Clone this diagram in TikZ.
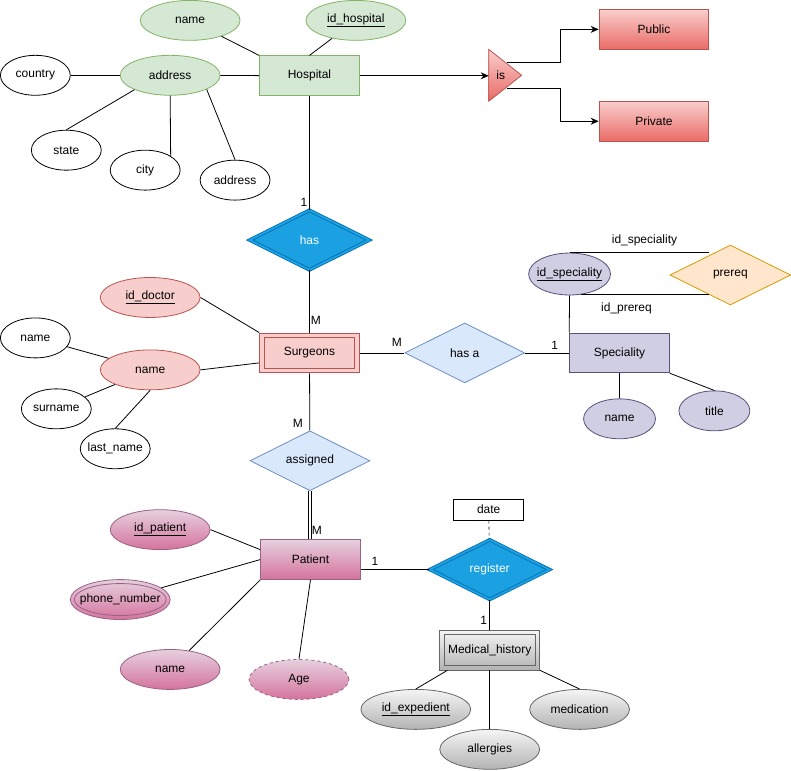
\documentclass[tikz,border=0pt]{standalone}
\usepackage{fontspec}
\setmainfont{Liberation Sans}
\usepackage{tikz}
\usetikzlibrary{arrows.meta,shapes.geometric,calc}

\definecolor{grfill}{HTML}{D5E8D4}\definecolor{grline}{HTML}{82B366}
\definecolor{rdfill}{HTML}{F8CECC}\definecolor{rdline}{HTML}{B85450}\definecolor{rddark}{HTML}{EA6B66}
\definecolor{bufill}{HTML}{1BA1E2}\definecolor{buline}{HTML}{006EAF}
\definecolor{lbfill}{HTML}{DAE8FC}\definecolor{lbline}{HTML}{6C8EBF}
\definecolor{pufill}{HTML}{D0CEE2}\definecolor{puline}{HTML}{56517E}
\definecolor{orfill}{HTML}{FFE6CC}\definecolor{orline}{HTML}{D79B00}
\definecolor{mvtop}{HTML}{E6D0DE}\definecolor{mvbot}{HTML}{D5739D}\definecolor{mvline}{HTML}{996185}
\definecolor{gytop}{HTML}{F5F5F5}\definecolor{gybot}{HTML}{B3B3B3}\definecolor{gyline}{HTML}{666666}

\begin{document}
\begin{tikzpicture}[x=1pt, y=-1pt, line width=0.8pt,
    font=\fontsize{12}{14}\selectfont,
    entity/.style={rectangle, draw, minimum width=100pt, minimum height=40pt, inner sep=0pt},
    attrib/.style={ellipse, draw, minimum width=#1, minimum height=40pt, inner sep=0pt},
    attrib/.default=70pt,
    relation/.style={diamond, draw, minimum width=120pt, minimum height=60pt, inner sep=0pt},
    greenfill/.style={fill=grfill, draw=grline},
    rosefill/.style={fill=rdfill, draw=rdline},
    redshade/.style={top color=rdfill, bottom color=rddark, draw=rdline},
    bluedbl/.style={fill=bufill, draw=buline, double=bufill, double distance=2pt, text=white},
    bluelight/.style={fill=lbfill, draw=lbline},
    lilac/.style={fill=pufill, draw=puline},
    amber/.style={fill=orfill, draw=orline},
    mauve/.style={top color=mvtop, bottom color=mvbot, draw=mvline},
    greyshade/.style={top color=gytop, bottom color=gybot, draw=gyline},
    arr/.style={-{Stealth[length=8pt, width=7pt]}}]
    %%Background
    \draw[draw=none] (0,0) rectangle (791,771);
    %%Hospital
    \node[entity, greenfill] (hosp) at (309.5,75.5) {Hospital};
    \node[attrib=100pt, greenfill] (hname) at (190,20) {name};
    \node[attrib=100pt, greenfill] (hid) at (356,20) {\underline{id\_hospital}};
    \node[attrib=100pt, greenfill] (addr) at (170,75) {address};
    \node[attrib] (country) at (35,75) {country};
    \node[attrib] (state) at (66,150) {state};
    \node[attrib] (city) at (145,170) {city};
    \node[attrib] (addr2) at (235,180) {address};

    \draw (hname) -- (hosp.north west);
    \draw (hid) -- (hosp.north);
    \draw (addr) -- (hosp);
    \draw (country) -- (addr);
    \draw (state.north) -- (addr.202);
    \draw (city.29) -- (addr.south);
    \draw (addr2.north) -- (addr.-21);

    %%is
    \draw[redshade] (489,49) -- (522,75) -- (489,101) -- cycle;
    \node (is) at (501,75) {is};
    \coordinate (isin) at (489,75.5);
    \coordinate (isup) at (507,62);
    \coordinate (isdown) at (507,88);
    \node[entity, redshade, minimum width=110pt] (pub) at (654.5,29) {Public};
    \node[entity, redshade, minimum width=110pt] (priv) at (654.5,121) {Private};

    \draw[arr] (hosp.east) -- (isin);
    \draw[arr] (isup) -- ++(54,0) |- (pub);
    \draw[arr] (isdown) -- ++(54,0) |- (priv);

    %%has
    \node[relation, bluedbl] (has) at (309.5,240) {has};
    \node[entity, rosefill] (sur) at (309.5,353) {Surgeons};
    \draw[draw=rdline] ([shift={(5pt,-5pt)}]sur.north west) rectangle ([shift={(-5pt,5pt)}]sur.south east);
    \draw (hosp) -- (has);
    \draw (has) -- (sur);
    \node (c1) at (304,202) {1};
    \node (c2) at (316,320) {M};

    %%Surgeons
    \node[attrib=100pt, rosefill] (did) at (150,297.5) {\underline{id\_doctor}};
    \node[attrib=100pt, rosefill] (sname) at (150,370) {name};
    \node[attrib] (fname) at (35,338) {name};
    \node[attrib, inner xsep=-1pt] (surname) at (56,409) {surname};
    \node[attrib, inner xsep=-3.6pt] (lastname) at (115,449) {last\_name};

    \draw (did.east) -- (sur.north west);
    \draw (sname.east) -- ([yshift=-10pt]sur.west);
    \draw (fname) -- (sname);
    \draw (surname) -- (sname);
    \draw (lastname.north) -- (sname.south);

    %%has a
    \node[relation, bluelight] (hasa) at (465,353) {has a};
    \node[entity, lilac] (spec) at (620,353) {Speciality};
    \draw (sur) -- (hasa);
    \draw (hasa) -- (spec);
    \node (c3) at (397,342) {M};
    \node (c4) at (555,345) {1};

    %%Speciality
    \node[attrib=82pt, lilac, minimum height=42pt, inner xsep=-4pt] (idsp) at (570,274) {\underline{id\_speciality}};
    \node[relation, amber, minimum width=121pt] (prereq) at (731,275) {prereq};
    \node[attrib=72pt, lilac] (spname) at (620,419) {name};
    \node[attrib=71pt, lilac] (title) at (715,411) {title};

    \draw (idsp.north) -- (prereq.138 |- idsp.north);
    \draw (idsp.-62) -- (prereq.222 |- idsp.-62);
    \node (l1) at (645,240) {id\_speciality};
    \node (l2) at (627,308) {id\_prereq};
    \draw (idsp.south) -- (spec.north west);
    \draw (spec.south) -- (spname.north);
    \draw (spec.south east) -- (title.north);

    %%assigned
    \node[relation, bluelight] (asg) at (310,461) {assigned};
    \node[entity, mauve] (pat) at (310.5,560) {Patient};
    \draw (sur) -- (asg);
    \draw[double, double distance=2.2pt] (asg) -- (asg |- pat.north);
    \node (c5) at (298,424) {M};
    \node (c6) at (317,531) {M};

    %%Patient
    \node[attrib=100pt, mauve] (pid) at (160,530) {\underline{id\_patient}};
    \node[attrib=100pt, mauve, inner xsep=-5.3pt] (phone) at (120,600) {phone\_number};
    \draw[draw=mvline] (phone.center) ellipse [x radius=46pt, y radius=16pt];
    \node[attrib=100pt, mauve] (pname) at (170,670) {name};
    \node[attrib=100pt, mauve, dashed] (age) at (299,680) {Age};

    \draw (pid.east) -- ([yshift=10pt]pat.west);
    \draw (phone) -- (pat.west);
    \draw (pname) -- (pat.south west);
    \draw (age.north) -- (pat.south);

    %%register
    \node[relation, bluedbl] (reg) at (490,570) {register};
    \node[rectangle, draw, minimum width=70pt, minimum height=21pt, inner sep=0pt] (date) at (489,510) {date};
    \node[entity, greyshade] (mh) at (490,650.5) {Medical\_history};
    \draw[draw=gyline] ([shift={(5pt,-5pt)}]mh.north west) rectangle ([shift={(-5pt,5pt)}]mh.south east);
    \draw (reg.west) -- (reg.west -| pat.east);
    \draw[dashed, line width=0.6pt] (date) -- (reg);
    \draw (reg) -- (mh);
    \node (c7) at (375,562) {1};
    \node (c8) at (484,621) {1};

    %%Medical_history
    \node[attrib=110pt, greyshade, inner xsep=-2pt] (idexp) at (416,710) {\underline{id\_expedient}};
    \node[attrib=100pt, greyshade] (allerg) at (490,750) {allergies};
    \node[attrib=100pt, greyshade] (medic) at (580,710) {medication};

    \draw (idexp.north) -- ([xshift=8pt]mh.south west);
    \draw (mh.south) -- (allerg.north);
    \draw (mh.south east) -- (medic.north);
\end{tikzpicture}
\end{document}
